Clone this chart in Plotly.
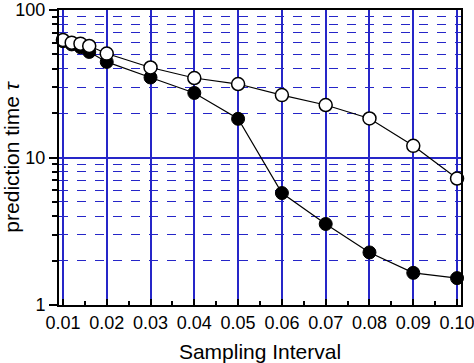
import plotly.graph_objects as go

sampling_interval = [0.010, 0.012, 0.014, 0.016, 0.02, 0.03, 0.04, 0.05, 0.06, 0.07, 0.08, 0.09, 0.10]
tau_open = [62.7, 60.1, 59.2, 57.1, 50.7, 40.8, 34.6, 31.5, 26.5, 22.7, 18.4, 12.0, 7.2]
tau_filled = [61.5, 58.5, 56.0, 52.0, 44.5, 34.9, 27.4, 18.3, 5.74, 3.54, 2.27, 1.65, 1.52]

x_ticks = [0.01, 0.02, 0.03, 0.04, 0.05, 0.06, 0.07, 0.08, 0.09, 0.10]
x_ticklabels = ["0.01", "0.02", "0.03", "0.04", "0.05", "0.06", "0.07", "0.08", "0.09", "0.10"]
x_minor = [0.015, 0.025, 0.035, 0.045, 0.055, 0.065, 0.075, 0.085, 0.095]
y_ticks = [1, 10, 100]
y_ticklabels = ["1", "10", "100"]
y_minor = [2, 3, 4, 5, 6, 7, 8, 9, 20, 30, 40, 50, 60, 70, 80, 90]

FONT = "Liberation Sans, Arial, sans-serif"
GRID = "#2626c8"

fig = go.Figure()
fig.add_trace(go.Scatter(
    x=sampling_interval, y=tau_filled, mode="lines+markers",
    line=dict(color="black", width=1.2),
    marker=dict(symbol="circle", size=13, color="black", line=dict(color="black", width=1)),
    showlegend=False, cliponaxis=False,
))
fig.add_trace(go.Scatter(
    x=sampling_interval, y=tau_open, mode="lines+markers",
    line=dict(color="black", width=1.2),
    marker=dict(symbol="circle", size=13, color="white", line=dict(color="black", width=1.5)),
    showlegend=False, cliponaxis=False,
))

fig.update_layout(
    width=474, height=363,
    margin=dict(l=59, r=13, t=10, b=58, autoexpand=False),
    paper_bgcolor="white", plot_bgcolor="white",
    font=dict(family=FONT, color="black", size=18),
    xaxis=dict(
        range=[0.0091, 0.1009], tickmode="array", tickvals=x_ticks, ticktext=x_ticklabels,
        ticks="inside", ticklen=6, tickwidth=1.5, tickcolor="black",
        showgrid=True, gridcolor=GRID, gridwidth=1.5,
        showline=True, linecolor="black", linewidth=2, mirror=True,
        zeroline=False, tickfont=dict(size=18), ticklabeloverflow="allow",
        minor=dict(tickmode="array", tickvals=x_minor, ticks="inside", ticklen=4,
                   tickwidth=1.5, tickcolor="black", showgrid=False),
        title=dict(text="Sampling Interval", font=dict(size=21)),
    ),
    yaxis=dict(
        type="log", range=[-0.0005, 2.0005], tickmode="array", tickvals=y_ticks, ticktext=y_ticklabels,
        ticks="outside", ticklen=8, tickwidth=1.5, tickcolor="black",
        showgrid=True, gridcolor=GRID, gridwidth=1.5,
        showline=True, linecolor="black", linewidth=2, mirror=True,
        zeroline=False, tickfont=dict(size=18), ticklabeloverflow="allow",
        minor=dict(tickmode="array", tickvals=y_minor, ticks="outside", ticklen=5,
                   tickwidth=1.5, tickcolor="black", showgrid=True,
                   gridcolor=GRID, gridwidth=1.2, griddash="dash"),
        title=dict(text="prediction time <i>τ</i>", font=dict(size=21)),
    ),
)

fig.write_html("out.html", post_script="document.body.style.margin='0';",
               config={"displayModeBar": False})
